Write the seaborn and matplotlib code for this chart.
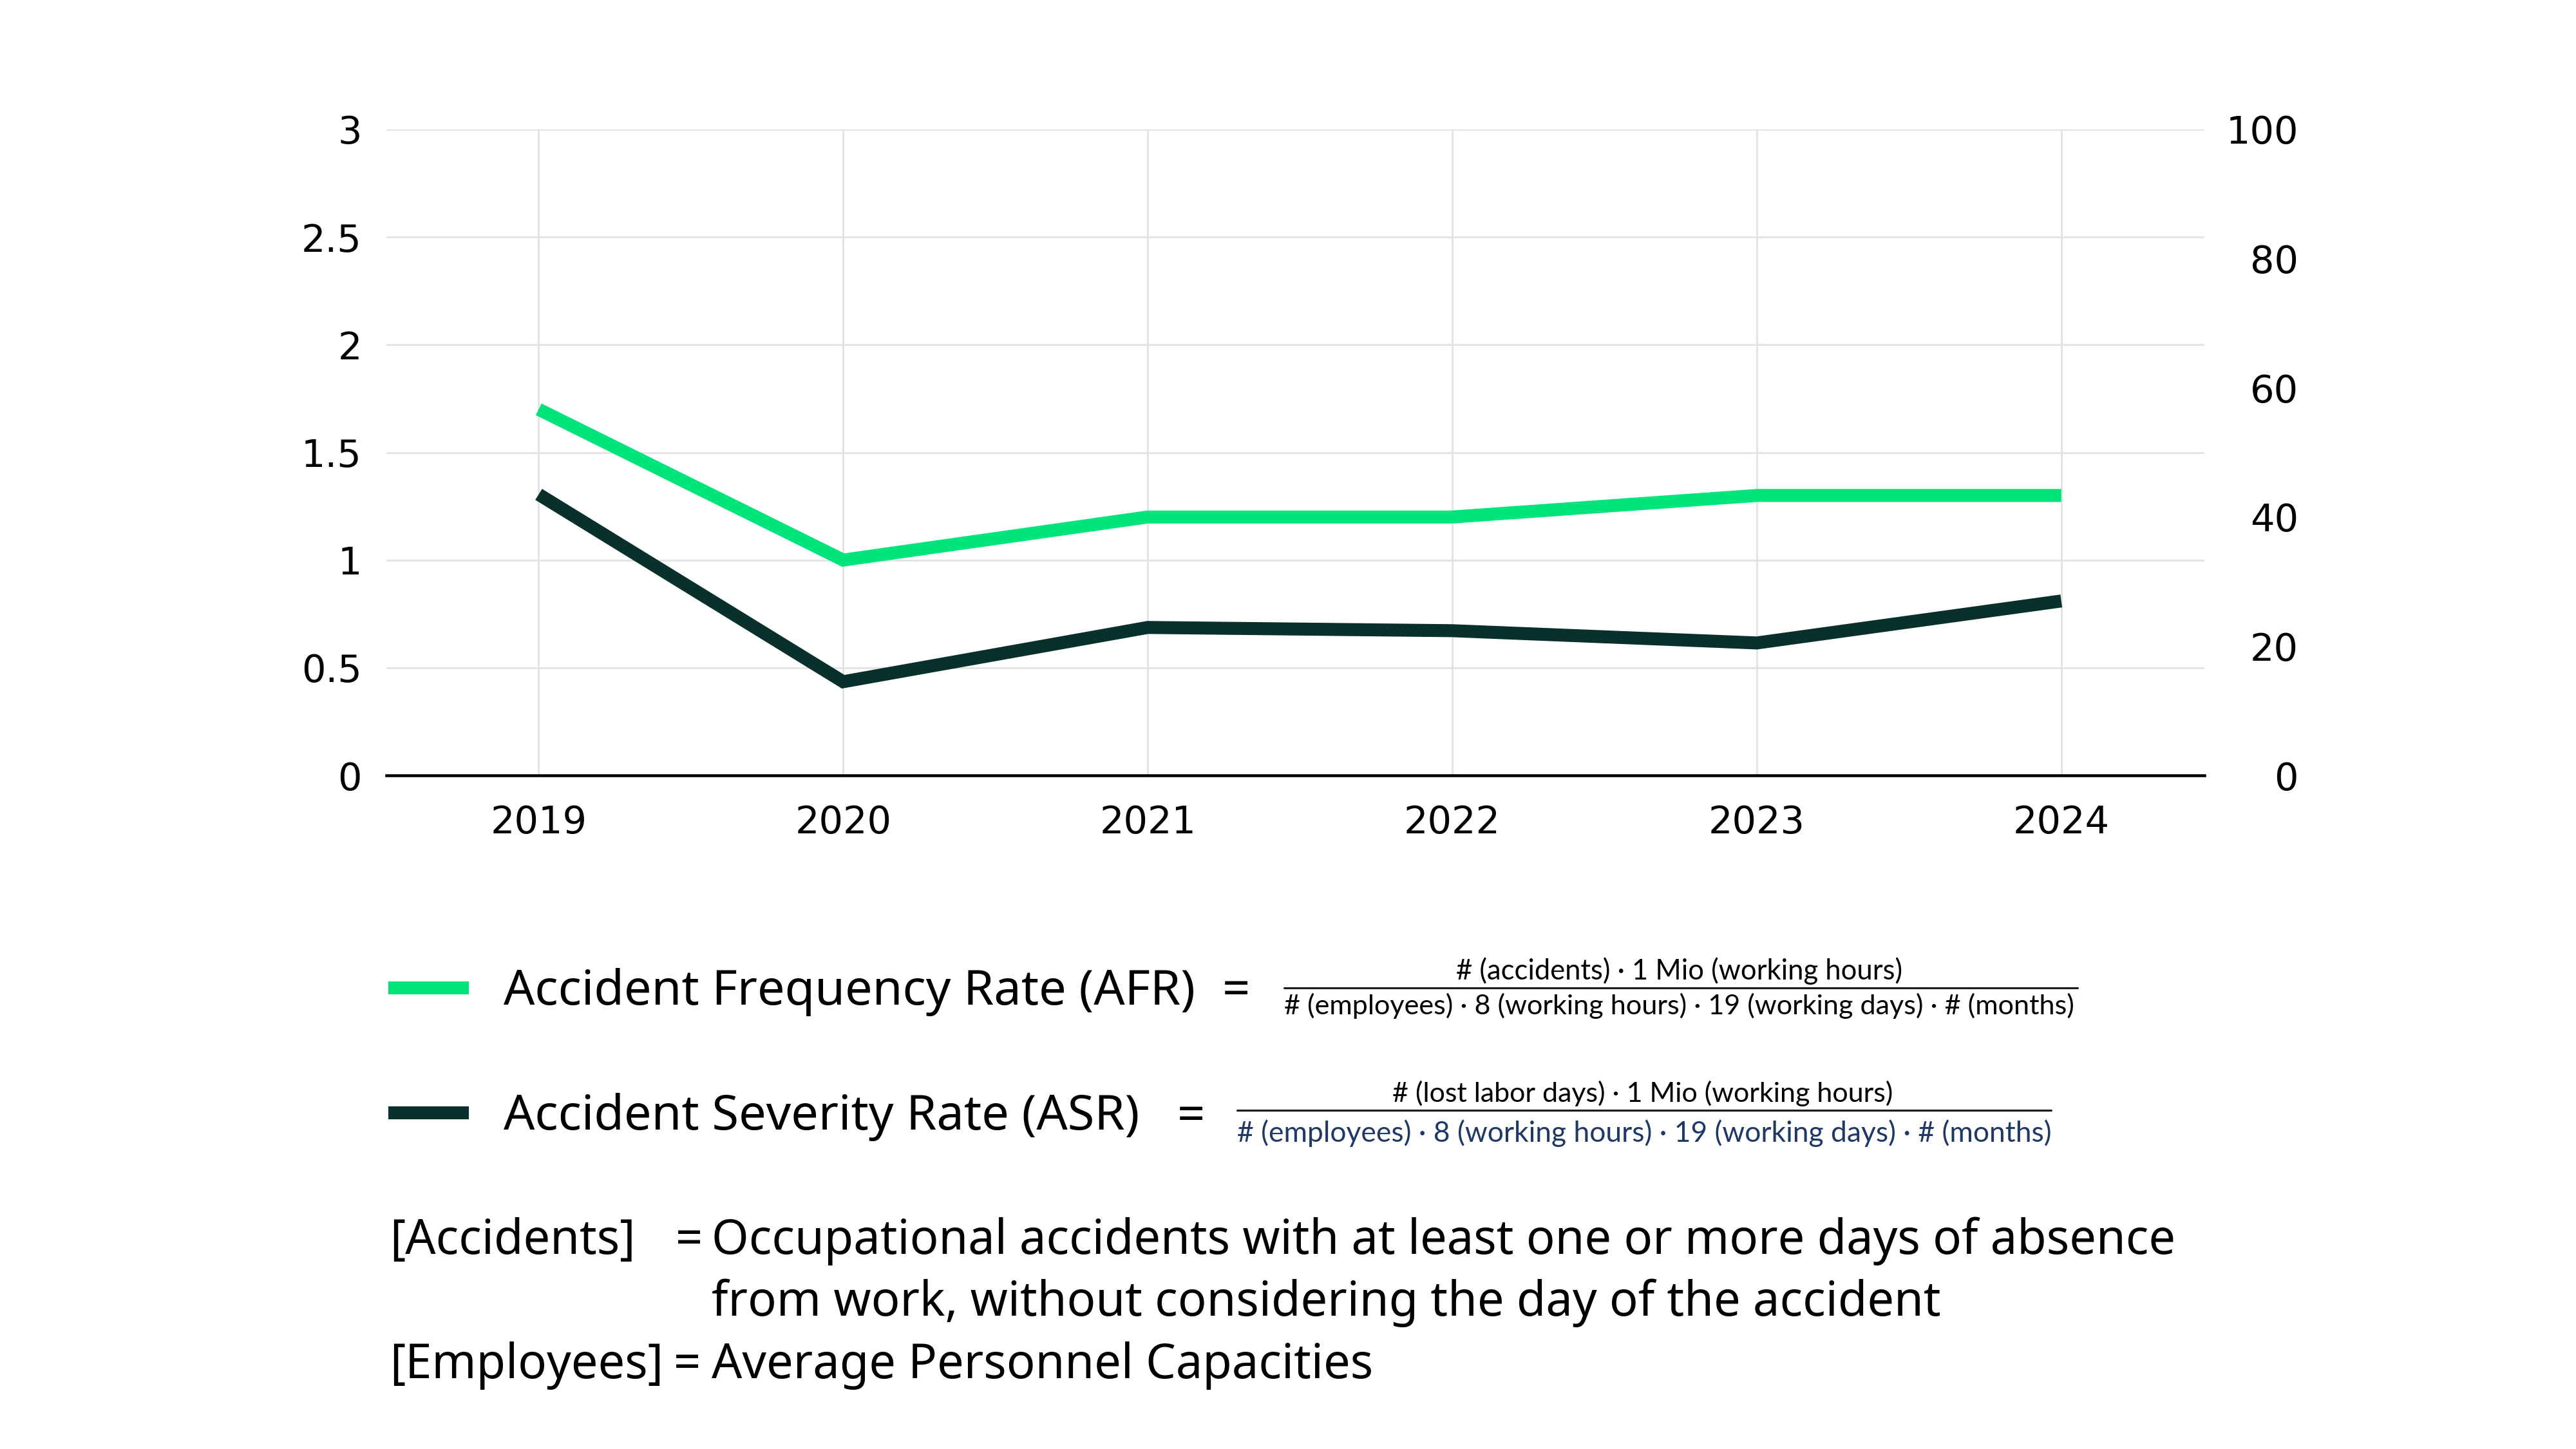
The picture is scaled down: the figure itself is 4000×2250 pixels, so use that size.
import matplotlib
matplotlib.use("Agg")
import matplotlib.pyplot as plt
from matplotlib.lines import Line2D
import seaborn as sns

# ---------------- data ----------------
years = [2019, 2020, 2021, 2022, 2023, 2024]
afr = [1.7, 1.0, 1.2, 1.2, 1.3, 1.3]          # left axis
asr = [43.5, 14.5, 22.9, 22.4, 20.5, 27.0]    # right axis
left_ticks = [0, 0.5, 1, 1.5, 2, 2.5, 3]
left_labels = ["0", "0.5", "1", "1.5", "2", "2.5", "3"]
right_ticks = [0, 20, 40, 60, 80, 100]
right_labels = ["0", "20", "40", "60", "80", "100"]
afr_label = "Accident Frequency Rate (AFR)"
asr_label = "Accident Severity Rate (ASR)"
afr_num = "# (accidents) · 1 Mio (working hours)"
afr_den = "# (employees) · 8 (working hours) · 19 (working days) · # (months)"
asr_num = "# (lost labor days) · 1 Mio (working hours)"
asr_den = "# (employees) · 8 (working hours) · 19 (working days) · # (months)"
note1_key = "[Accidents]"
note1_a = "Occupational accidents with at least one or more days of absence"
note1_b = "from work, without considering the day of the accident"
note2_key = "[Employees]"
note2_a = "Average Personnel Capacities"

GREEN = "#00E47C"
DARK = "#09302A"
NAVY = "#203864"
GRID = "#E4E2DE"

sns.set_theme(style="white")
plt.rcParams["font.family"] = ["DejaVu Sans"]
plt.rcParams["text.color"] = "black"

W, H = 4000, 2250
fig = plt.figure(figsize=(16, 9), dpi=250)
renderer = fig.canvas.get_renderer()

def fx(px):
    return px / W

def fy(py):
    return 1 - py / H

ax = fig.add_axes([fx(600), fy(1204), (3423 - 600) / W, (1204 - 201) / H])
sns.lineplot(x=years, y=afr, ax=ax, color=GREEN, linewidth=5.8,
             solid_capstyle="butt", solid_joinstyle="miter")
ax.set_xlim(2018.5, 2024.47)
ax.set_ylim(0, 3)
ax.set_xticks(years)
ax.set_xticklabels([str(y) for y in years])
ax.set_yticks(left_ticks, left_labels)
ax.grid(True, color=GRID, linewidth=0.8)
ax.set_axisbelow(True)
ax.tick_params(axis="x", length=0, pad=13, labelsize=17, colors="black")
ax.tick_params(axis="y", length=0, pad=11, labelsize=17, colors="black")
for s in ["top", "right", "left"]:
    ax.spines[s].set_visible(False)
ax.spines["bottom"].set_color("black")
ax.spines["bottom"].set_linewidth(1.3)
ax.set_xlabel("")
ax.set_ylabel("")

ax2 = ax.twinx()
sns.lineplot(x=years, y=asr, ax=ax2, color=DARK, linewidth=5.8,
             solid_capstyle="butt", solid_joinstyle="miter")
ax2.set_ylim(0, 100)
ax2.set_yticks(right_ticks, right_labels, ha="right")
ax2.tick_params(axis="y", length=0, pad=42, labelsize=17, colors="black")
ax2.grid(False)
for s in ax2.spines.values():
    s.set_visible(False)
ax2.set_ylabel("")

# ---------------- text helpers ----------------
MAIN_FONT = ["Noto Sans", "DejaVu Sans"]
FORM_FONT = ["Lato", "DejaVu Sans"]

def fit_size(s, target_w, family, base=20):
    t = fig.text(0, 0, s, fontsize=base, family=family)
    w = t.get_window_extent(renderer).width
    t.remove()
    return base * target_w / w

main_fs = fit_size(note1_a, 2275, MAIN_FONT)
leg_fs = fit_size(afr_label, 1074, MAIN_FONT)

# legend entries
fs_px = leg_fs * 250 / 72
for line_ax, lbl, yc in [(ax, afr_label, 1541), (ax2, asr_label, 1735)]:
    h = line_ax.get_lines()[0]
    fig.legend(handles=[h], labels=[lbl], loc="center left",
               bbox_to_anchor=(fx(603), fy(yc)), frameon=False,
               borderpad=0, borderaxespad=0,
               handlelength=125 / fs_px, handletextpad=54 / fs_px,
               labelcolor="black",
               prop={"family": MAIN_FONT, "size": leg_fs})

# equals signs
fig.text(fx(1919), fy(1560), "=", ha="center", va="baseline",
         fontsize=leg_fs, family=MAIN_FONT)
fig.text(fx(1849), fy(1755), "=", ha="center", va="baseline",
         fontsize=leg_fs, family=MAIN_FONT)

# fractions
def fraction(num, den, cx_num, cy_num, w_num, cx_den, cy_den, w_den,
             x0, x1, ybar, den_color):
    s1 = fit_size(num, w_num, FORM_FONT)
    s2 = fit_size(den, w_den, FORM_FONT)
    fig.text(fx(cx_num), fy(cy_num), num, ha="center", va="center",
             fontsize=s1, family=FORM_FONT, color="black")
    fig.text(fx(cx_den), fy(cy_den), den, ha="center", va="center",
             fontsize=s2, family=FORM_FONT, color=den_color)
    fig.add_artist(Line2D([fx(x0), fx(x1)], [fy(ybar), fy(ybar)],
                          transform=fig.transFigure, color="#1A1A1A",
                          linewidth=0.9))

fraction(afr_num, afr_den, 2608, 1508, 692, 2607, 1562, 1227,
         1994, 3226, 1534, "black")
fraction(asr_num, asr_den, 2551, 1698, 779, 2553, 1760, 1264,
         1921, 3185, 1724, NAVY)

# notes
fig.text(fx(605), fy(1947), note1_key, ha="left", va="baseline",
         fontsize=main_fs, family=MAIN_FONT)
fig.text(fx(1049), fy(1947), "=", ha="left", va="baseline",
         fontsize=main_fs, family=MAIN_FONT)
fig.text(fx(1105), fy(1947), note1_a, ha="left", va="baseline",
         fontsize=main_fs, family=MAIN_FONT)
fig.text(fx(1105), fy(2043), note1_b, ha="left", va="baseline",
         fontsize=main_fs, family=MAIN_FONT)
fig.text(fx(605), fy(2140), note2_key, ha="left", va="baseline",
         fontsize=main_fs, family=MAIN_FONT)
fig.text(fx(1046), fy(2140), "=", ha="left", va="baseline",
         fontsize=main_fs, family=MAIN_FONT)
fig.text(fx(1105), fy(2140), note2_a, ha="left", va="baseline",
         fontsize=main_fs, family=MAIN_FONT)

fig.savefig("out.png", dpi=250, facecolor="white")
